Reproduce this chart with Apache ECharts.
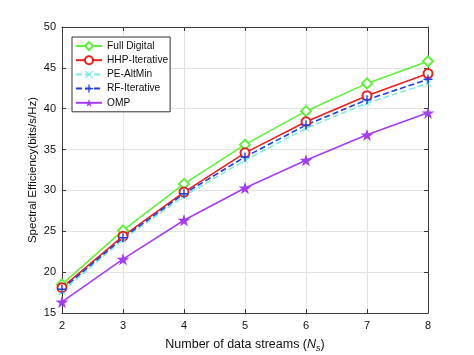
<!DOCTYPE html>
<html><head><meta charset="utf-8">
<script src="https://cdn.jsdelivr.net/npm/echarts@6/dist/echarts.min.js"></script>
<style>html,body{margin:0;padding:0;background:#fff}#c{width:474px;height:355px}</style>
</head><body><div id="c"></div>
<script>
var streams = [2, 3, 4, 5, 6, 7, 8];
var fullDigital = [18.5, 25.1, 30.8, 35.6, 39.7, 43.1, 45.8];
var hhpIterative = [18.1, 24.4, 29.8, 34.6, 38.4, 41.6, 44.3];
var peAltMin = [17.6, 24.0, 29.3, 33.7, 37.6, 40.7, 43.1];
var rfIterative = [17.9, 24.2, 29.6, 34.1, 38.0, 41.1, 43.6];
var omp = [16.35, 21.6, 26.35, 30.3, 33.7, 36.8, 39.5];
var yTicks = [15, 50, 5];

function pairs(v){ return streams.map(function(x,i){ return [x, v[i]]; }); }
var FONT = 'Liberation Sans, Arial, sans-serif';
var plusPath = 'path://M4.2,0H5.8V4.2H10V5.8H5.8V10H4.2V5.8H0V4.2H4.2Z';
var xPath = 'path://M0,1 L1,0 L5,4 L9,0 L10,1 L6,5 L10,9 L9,10 L5,6 L1,10 L0,9 L4,5 Z';
var starPath = 'path://M50,0 L61,35 L98,35 L68,57 L79,91 L50,70 L21,91 L32,57 L2,35 L39,35 Z';

function mk(name, data, color, symbol, size, dashed, empty){
  return {
    name: name, type: 'line', data: pairs(data),
    symbol: symbol, symbolSize: size, symbolKeepAspect: true,
    showAllSymbol: true,
    lineStyle: {color: color, width: 1.6, type: dashed ? [6, 3] : 'solid'},
    itemStyle: {color: color, borderColor: color, borderWidth: empty ? 1.4 : 0},
    emphasis: {disabled: true},
    z: 3
  };
}

var chart = echarts.init(document.getElementById('c'), null, {renderer: 'canvas'});
var axisCol = '#3a3a3a';
chart.setOption({
  animation: false,
  backgroundColor: '#fff',
  grid: {left: 62, right: 46, top: 27, bottom: 42, show: false, outerBoundsMode: 'none', containLabel: false},
  legend: {
    orient: 'vertical', left: 72, top: 37,
    backgroundColor: '#fff', borderColor: '#333', borderWidth: 1,
    padding: [4, 2, 4, 3], itemWidth: 26, itemHeight: 10, itemGap: 4.2,
    textStyle: {fontFamily: FONT, fontSize: 10.2, color: '#111', lineHeight: 10},
    data: ['Full Digital', 'HHP-Iterative', 'PE-AltMin', 'RF-Iterative', 'OMP']
  },
  xAxis: [{
    type: 'value', min: 2, max: 8, interval: 1,
    name: '{a|Number of data streams (}{i|N}{s|s}{a|)}',
    nameLocation: 'middle', nameGap: 24, nameMoveOverlap: false,
    nameTextStyle: {
      rich: {
        a: {fontFamily: FONT, fontSize: 12.5, color: '#111'},
        i: {fontFamily: FONT, fontSize: 12.5, fontStyle: 'italic', color: '#111'},
        s: {fontFamily: FONT, fontSize: 9, fontStyle: 'italic', color: '#111', padding: [7, 0, 0, 0]}
      }
    },
    axisLine: {show: true, lineStyle: {color: axisCol, width: 1}},
    axisTick: {show: true, inside: true, length: 4, lineStyle: {color: axisCol}},
    axisLabel: {fontFamily: FONT, fontSize: 11, color: '#111', margin: 7},
    splitLine: {show: true, lineStyle: {color: '#e3e3e3', width: 1}}
  }, {
    type: 'value', min: 2, max: 8, interval: 1, position: 'top',
    axisLine: {show: true, onZero: false, lineStyle: {color: axisCol, width: 1}},
    axisTick: {show: true, inside: true, length: 4, lineStyle: {color: axisCol}},
    axisLabel: {show: false}, splitLine: {show: false}
  }],
  yAxis: [{
    type: 'value', min: yTicks[0], max: yTicks[1], interval: yTicks[2],
    name: 'Spectral Efficiency(bits/s/Hz)',
    nameLocation: 'middle', nameGap: 23, nameMoveOverlap: false,
    nameTextStyle: {fontFamily: FONT, fontSize: 11.5, color: '#111'},
    axisLine: {show: true, lineStyle: {color: axisCol, width: 1}},
    axisTick: {show: true, inside: true, length: 4, lineStyle: {color: axisCol}},
    axisLabel: {fontFamily: FONT, fontSize: 11, color: '#111', margin: 6},
    splitLine: {show: true, lineStyle: {color: '#e3e3e3', width: 1}}
  }, {
    type: 'value', min: yTicks[0], max: yTicks[1], interval: yTicks[2], position: 'right',
    axisLine: {show: true, onZero: false, lineStyle: {color: axisCol, width: 1}},
    axisTick: {show: true, inside: true, length: 4, lineStyle: {color: axisCol}},
    axisLabel: {show: false}, splitLine: {show: false}
  }],
  series: [
    mk('Full Digital', fullDigital, '#5ff03a', 'emptyDiamond', 10, false, true),
    mk('HHP-Iterative', hhpIterative, '#e81e1e', 'emptyCircle', 9, false, true),
    mk('PE-AltMin', peAltMin, '#79ece6', xPath, 7, true, false),
    mk('RF-Iterative', rfIterative, '#1f3fe0', plusPath, 9, true, false),
    mk('OMP', omp, '#a53cf2', starPath, 13, false, false)
  ]
});
</script></body></html>
